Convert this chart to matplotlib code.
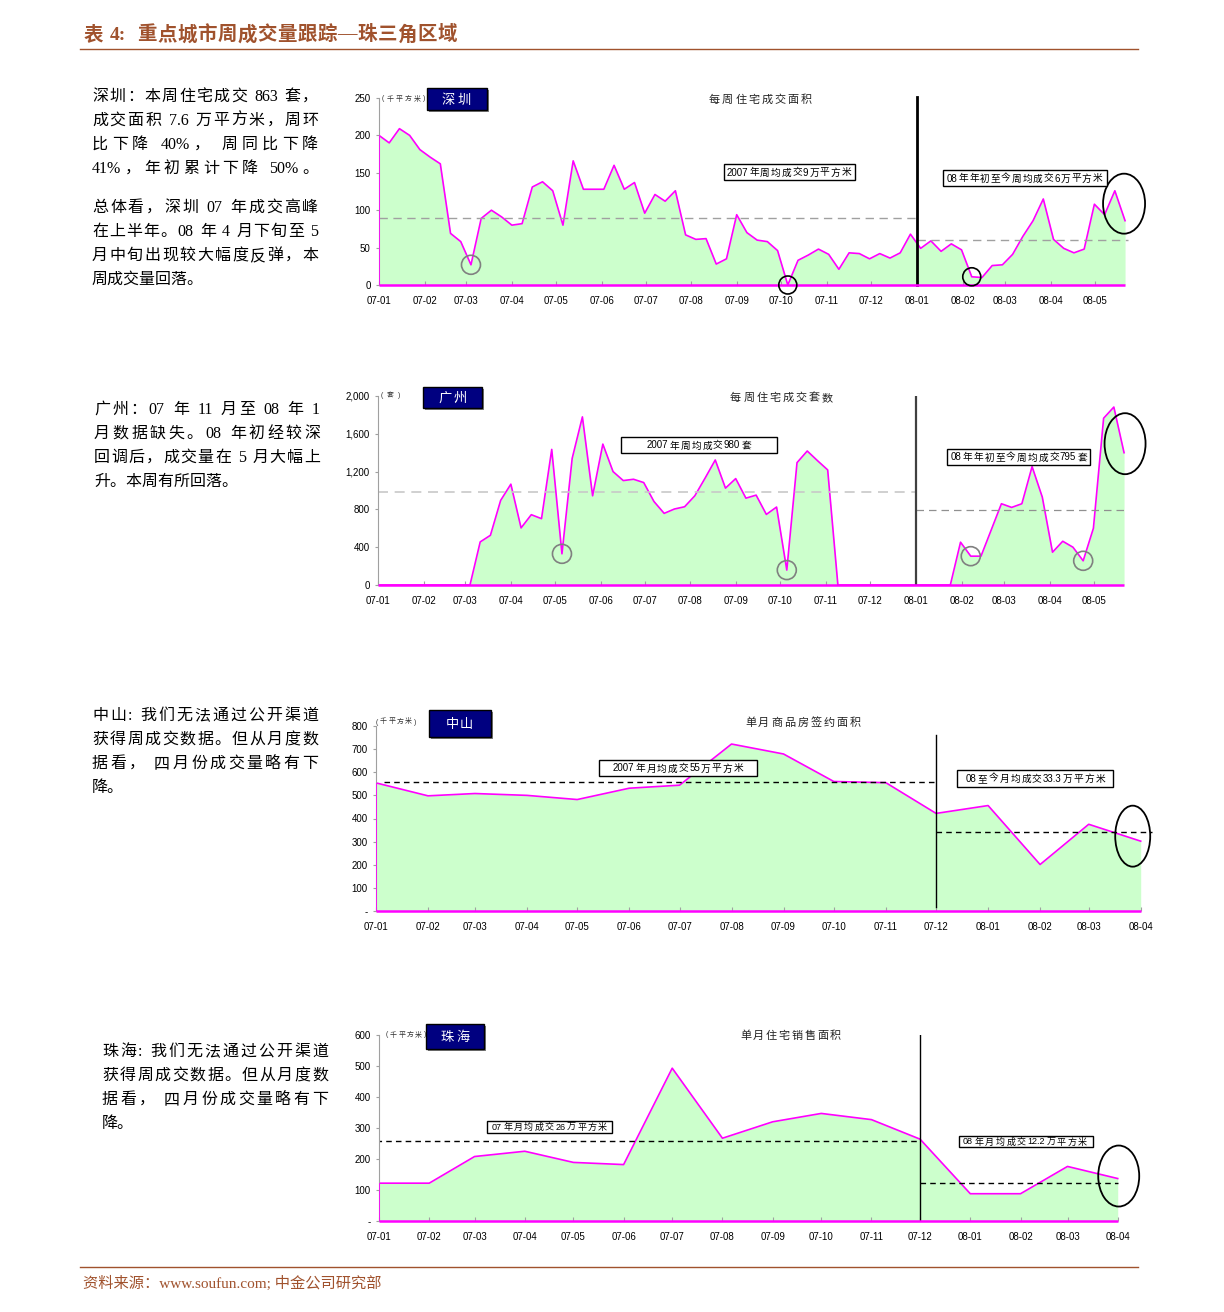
import re
import numpy as np
import matplotlib
matplotlib.use("Agg")
import matplotlib.pyplot as plt
from matplotlib.patches import Ellipse, Rectangle
from matplotlib.lines import Line2D
from matplotlib.transforms import IdentityTransform
from matplotlib.ticker import FuncFormatter

plt.rcParams['font.family'] = ['Liberation Sans', 'Noto Sans CJK SC', 'DejaVu Sans']

# ---------------- data ----------------
weekly_month_labels = ['07-01', '07-02', '07-03', '07-04', '07-05', '07-06', '07-07', '07-08',
                       '07-09', '07-10', '07-11', '07-12', '08-01', '08-02', '08-03', '08-04', '08-05']
weekly_month_days = [0, 31, 59, 90, 120, 151, 181, 212, 243, 273, 304, 334, 365, 396, 425, 456, 486]

monthly_labels = ['07-01', '07-02', '07-03', '07-04', '07-05', '07-06', '07-07', '07-08',
                  '07-09', '07-10', '07-11', '07-12', '08-01', '08-02', '08-03', '08-04']
monthly_days = [0, 31, 59, 90, 120, 151, 181, 212, 243, 273, 304, 334, 365, 396, 425, 456]

# Shenzhen weekly residential transaction area (thousand sqm)
sz_area = [200, 190, 209, 200, 181, 171, 162, 69, 58, 27, 89, 100, 91, 80, 82, 131, 138, 126, 80, 166,
           128, 128, 128, 160, 128, 137, 96, 121, 112, 126, 67, 61, 62, 28, 35, 94, 70, 60, 58, 46, 0,
           33, 40, 48, 41, 21, 43, 42, 35, 42, 36, 43, 68, 49, 59, 45, 55, 47, 11, 10, 26, 27, 41,
           65, 86, 115, 61, 49, 43, 48, 108, 94, 126, 86]
sz_avg_2007 = 89
sz_avg_2008 = 60

# Guangzhou weekly residential transaction units
gz_units = [0, 0, 0, 0, 0, 0, 0, 0, 0, 0,
            456, 526, 895, 1067, 604, 744, 702, 1435, 330, 1340, 1779, 944, 1491, 1200, 1105, 1119,
            1084, 884, 758, 804, 828, 944, 1130, 1323, 1025, 1126, 919, 951, 747, 825, 158, 1295,
            1418, 1316, 1218,
            0, 0, 0, 0, 0, 0, 0, 0, 0, 0, 0, 0,
            453, 305, 305, 582, 860, 821, 860, 1253, 930, 347, 463, 400, 256, 600, 1765, 1883, 1400]
gz_avg_2007 = 980
gz_avg_2008 = 795

# Zhongshan monthly contracted area (thousand sqm)
zs_area = [554, 498, 508, 500, 482, 531, 544, 722, 679, 560, 555, 422, 456, 201, 375, 302]
zs_avg_2007 = 557
zs_avg_2008 = 340

# Zhuhai monthly residential sales area (thousand sqm)
zh_area = [122, 122, 208, 225, 189, 182, 493, 267, 320, 347, 327, 264, 88, 88, 176, 137]
zh_avg_2007 = 258
zh_avg_2008 = 122

# ---------------- layout helpers ----------------
W, H = 1224, 1312
DPI = 100
fig = plt.figure(figsize=(W / DPI, H / DPI), dpi=DPI)
fig.patch.set_facecolor('white')
RENDERER = fig.canvas.get_renderer()

FILL = '#CCFFCC'
LINE = '#FF00FF'
NAVY = '#000080'
BROWN = '#A0522D'
CJK = ['Liberation Sans', 'Noto Sans CJK SC']
SERIF_CJK = ['Liberation Serif', 'Noto Sans CJK SC']


def add_ax(l, t, r, b):
    return fig.add_axes([l / W, 1 - b / H, (r - l) / W, (b - t) / H])


def ftext(x, y, s, **kw):
    kw.setdefault('va', 'center')
    return fig.text(x / W, 1 - y / H, s, **kw)


_wcache = {}


def text_width(s, fs, family, weight='normal'):
    key = (s, fs, tuple(family), weight)
    if key in _wcache:
        return _wcache[key]
    t = fig.text(0, 0, s + '|', fontsize=fs, family=family, fontweight=weight)
    w = t.get_window_extent(RENDERER).width
    t.remove()
    t2 = fig.text(0, 0, '|', fontsize=fs, family=family, fontweight=weight)
    wb = t2.get_window_extent(RENDERER).width
    t2.remove()
    _wcache[key] = w - wb
    return w - wb


def spread_text(xl, xr, y, s, fs, family, color='black', weight='normal'):
    """Draw s filling xl..xr; extra space goes between tokens (Latin runs kept together)."""
    tokens = re.findall(r'[A-Za-z0-9.%:]+|.', s)
    n = len(tokens)
    starts = []
    acc = ''
    for tk in tokens:
        starts.append(text_width(acc, fs, family, weight))
        acc += tk
    total = text_width(s, fs, family, weight)
    gap = (xr - xl - total) / (n - 1) if n > 1 else 0
    for i, tk in enumerate(tokens):
        if tk == ' ':
            continue
        ftext(xl + starts[i] + i * gap, y, tk, fontsize=fs, family=family, color=color,
              ha='left', fontweight=weight)


def frect(l, t, r, b, **kw):
    rect = Rectangle((l / W, 1 - b / H), (r - l) / W, (b - t) / H, transform=fig.transFigure, **kw)
    fig.add_artist(rect)


def name_box(l, t, r, b, tl, tr, s):
    frect(l + 2, t + 2, r + 2, b + 2, fc='#808080', ec='none')
    frect(l, t, r, b, fc=NAVY, ec='black', lw=1)
    spread_text(tl, tr, (t + b) / 2 + 1.5, s, 9.5, CJK, color='white')


def label_box(l, t, r, b, tl, tr, s, fs=7):
    frect(l, t, r, b, fc='white', ec='black', lw=1)
    spread_text(tl, tr, (t + b) / 2 + 0.5, s, fs, CJK)


def mark_ellipse(ax, x, y, w, h, color, dx=0, dy=0, lw=1.2):
    px, py = ax.transData.transform((x, y))
    e = Ellipse((px + dx, py + dy), w, h, transform=IdentityTransform(), fill=False,
                ec=color, lw=lw)
    fig.add_artist(e)


def draw_area(ax, x, y):
    ax.fill_between(x, 0, y, color=FILL, lw=0)
    ax.plot(x, y, color=LINE, lw=1.2)
    ax.hlines(0, x[0], x[-1], color=LINE, lw=1.8, clip_on=False, zorder=5)
    ax.vlines(x[0], 0, y[0], color=LINE, lw=1.2, zorder=5)


def style_axes(ax, xticks, xlabels, yticks, yfmt):
    ax.patch.set_visible(False)
    for s in ['top', 'right', 'bottom']:
        ax.spines[s].set_visible(False)
    ax.spines['left'].set_color('#A0A0A0')
    ax.spines['left'].set_linewidth(0.8)
    ax.set_xticks(xticks)
    ax.set_xticklabels(xlabels)
    ax.set_yticks(yticks)
    ax.yaxis.set_major_formatter(FuncFormatter(yfmt))
    ax.tick_params(axis='x', direction='in', length=3, color='#A0A0A0', pad=8, labelsize=7)
    ax.tick_params(axis='y', direction='out', length=2.5, color='#A0A0A0', pad=3.5, labelsize=7)


# ---------------- header / footer ----------------
spread_text(84, 457, 35, '表 4:  重点城市周成交量跟踪—珠三角区域', 14, SERIF_CJK,
            color=BROWN, weight='bold')
fig.add_artist(Line2D([80 / W, 1138 / W], [1 - 49 / H] * 2, color=BROWN, lw=1))
fig.add_artist(Line2D([80 / W, 1138 / W], [1 - 1267 / H] * 2, color=BROWN, lw=1))
ftext(83, 1283, '资料来源：www.soufun.com; 中金公司研究部', color=BROWN, fontsize=11, family=SERIF_CJK)

# ---------------- paragraphs ----------------
# (left x, right x, line y positions, lines, number of justified lines)
paras = [
    (92, 318, [97, 121, 145, 169], ['深圳：本周住宅成交 863 套，', '成交面积 7.6 万平方米，周环',
                                   '比下降 40%， 周同比下降', '41%，年初累计下降 50%。'], 4),
    (92, 318, [208, 232, 256, 280], ['总体看，深圳 07 年成交高峰', '在上半年。08 年 4 月下旬至 5',
                                    '月中旬出现较大幅度反弹，本', '周成交量回落。'], 3),
    (94, 320, [410, 434, 458, 482], ['广州：07 年 11 月至 08 年 1', '月数据缺失。08 年初经较深',
                                    '回调后，成交量在 5 月大幅上', '升。本周有所回落。'], 3),
    (92, 318, [716, 740, 764, 788], ['中山: 我们无法通过公开渠道', '获得周成交数据。但从月度数',
                                    '据看， 四月份成交量略有下', '降。'], 3),
    (102, 328, [1052, 1076, 1100, 1124], ['珠海: 我们无法通过公开渠道', '获得周成交数据。但从月度数',
                                         '据看， 四月份成交量略有下', '降。'], 3),
]
PFS = 11.5
for x0, x1r, ys, lines, njust in paras:
    for k, (yy, s) in enumerate(zip(ys, lines)):
        if k < njust:
            spread_text(x0, x1r, yy, s, PFS, SERIF_CJK)
        else:
            ftext(x0, yy, s, fontsize=PFS, family=SERIF_CJK, color='black')

# ---------------- weekly charts ----------------
WEEK_PX = 10.22
DAY_PX = 1.474
week_ticks = [d * DAY_PX / WEEK_PX for d in weekly_month_days]
sep_week = week_ticks[weekly_month_labels.index('08-01')]

# Shenzhen
ax1 = add_ax(379, 98, 1140, 285)
x1 = np.arange(len(sz_area))
ax1.set_xlim(0, (1140 - 379) / WEEK_PX)
ax1.set_ylim(0, 250)
draw_area(ax1, x1, sz_area)
ax1.hlines(sz_avg_2007, 0, sep_week, colors='#A0A0A0', linestyles=(0, (6, 4)), lw=1)
ax1.hlines(sz_avg_2008, sep_week, x1[-1] + 0.3, colors='#A0A0A0', linestyles=(0, (6, 4)), lw=1)
ax1.axvline(sep_week, color='black', lw=2, ymax=1.005, clip_on=False)
style_axes(ax1, week_ticks, weekly_month_labels, [0, 50, 100, 150, 200, 250],
           lambda v, p: f'{int(v)}')
mark_ellipse(ax1, 9, sz_area[9], 19, 19, '#808080')
mark_ellipse(ax1, 40, sz_area[40], 18, 18, 'black')
mark_ellipse(ax1, 58, sz_area[58], 18, 18, 'black')
mark_ellipse(ax1, x1[-1], sz_area[-1], 42, 60, 'black', dx=-1, dy=17, lw=1.3)
name_box(427, 88, 487, 110, 442, 471, '深 圳')
spread_text(382, 425, 99, '(千平方米)', 5, CJK, color='#333333')
spread_text(709, 812, 100, '每周住宅成交面积', 8, CJK, color='#222222')
label_box(724, 164, 855, 180, 727, 851, '2007年周均成交9万平方米')
label_box(943, 170, 1107, 186, 947, 1102, '08年年初至今周均成交6万平方米')

# Guangzhou
ax2 = add_ax(378, 396, 1140, 585)
x2 = np.arange(len(gz_units))
ax2.set_xlim(0, (1140 - 378) / WEEK_PX)
ax2.set_ylim(0, 2000)
draw_area(ax2, x2, gz_units)
ax2.hlines(gz_avg_2007, 0, sep_week, colors='#C8C8C8', linestyles=(0, (6, 4)), lw=1.2)
ax2.hlines(gz_avg_2008, sep_week, x2[-1] + 0.3, colors='#909090', linestyles=(0, (6, 4)), lw=0.9)
ax2.axvline(sep_week, color='#404040', lw=1.6)
style_axes(ax2, week_ticks, weekly_month_labels, [0, 400, 800, 1200, 1600, 2000],
           lambda v, p: f'{int(v):,}')
mark_ellipse(ax2, 18, gz_units[18], 19, 19, '#808080')
mark_ellipse(ax2, 40, gz_units[40], 19, 19, '#808080')
mark_ellipse(ax2, 58, gz_units[58], 19, 19, '#808080')
mark_ellipse(ax2, 69, gz_units[69], 19, 19, '#808080')
mark_ellipse(ax2, x2[-1], gz_units[-1], 41, 61, 'black', dx=1, dy=9, lw=1.3)
name_box(423, 387, 482, 408, 438, 467, '广 州')
spread_text(381, 400, 396, '(套)', 5, CJK, color='#333333')
spread_text(730, 833, 398, '每周住宅成交套数', 8, CJK, color='#222222')
label_box(621, 437, 777, 453, 647, 751, '2007年周均成交980套')
label_box(947, 449, 1090, 465, 951, 1087, '08年年初至今周均成交795套')

# ---------------- monthly charts ----------------
sep_month = monthly_days[monthly_labels.index('07-12')]

# Zhongshan
ZS_DAY_PX = 1.677
ax3 = add_ax(376, 726, 1160, 911)
ax3.set_xlim(0, (1160 - 376) / ZS_DAY_PX)
ax3.set_ylim(0, 800)
draw_area(ax3, monthly_days, zs_area)
ax3.hlines(zs_avg_2007, monthly_days[0] + 5, sep_month, colors='black', linestyles=(0, (4, 3)), lw=1)
ax3.hlines(zs_avg_2008, sep_month, monthly_days[-1] + 7, colors='black', linestyles=(0, (4, 3)), lw=1)
ax3.axvline(sep_month, color='black', lw=1, ymin=0.02, ymax=0.95)
style_axes(ax3, monthly_days, monthly_labels, list(range(0, 900, 100)),
           lambda v, p: '-' if v == 0 else f'{int(v)}')
mark_ellipse(ax3, monthly_days[-1], zs_area[-1], 35, 61, 'black', dx=-8, dy=5, lw=1.3)
name_box(429, 710, 491, 737, 446, 473, '中 山')
spread_text(376, 416, 722, '(千平方米)', 5, CJK, color='#333333')
spread_text(745, 861, 723, '单月商品房签约面积', 8, CJK, color='#222222')
label_box(599, 760, 757, 776, 613, 743, '2007年月均成交55万平方米')
label_box(957, 770, 1113, 787, 966, 1105, '08至今月均成交33.3万平方米')

# Zhuhai
ZH_DAY_PX = 1.62
ax4 = add_ax(379, 1035, 1140, 1221)
ax4.set_xlim(0, (1140 - 379) / ZH_DAY_PX)
ax4.set_ylim(0, 600)
draw_area(ax4, monthly_days, zh_area)
ax4.hlines(zh_avg_2007, monthly_days[0] - 2, sep_month, colors='black', linestyles=(0, (4, 3)), lw=1)
ax4.hlines(zh_avg_2008, sep_month, monthly_days[-1], colors='black', linestyles=(0, (4, 3)), lw=1)
ax4.axvline(sep_month, color='black', lw=1)
style_axes(ax4, monthly_days, monthly_labels, list(range(0, 700, 100)),
           lambda v, p: '-' if v == 0 else f'{int(v)}')
mark_ellipse(ax4, monthly_days[-1], zh_area[-1], 41, 61, 'black', dx=1, dy=2.5, lw=1.3)
name_box(426, 1024, 484, 1049, 440, 470, '珠 海')
spread_text(386, 426, 1035, '(千平方米)', 5, CJK, color='#333333')
spread_text(740, 841, 1036, '单月住宅销售面积', 8, CJK, color='#222222')
label_box(487, 1121, 612, 1133, 492, 607, '07年月均成交26万平方米', fs=6.5)
label_box(959, 1136, 1093, 1147, 963, 1087, '08年月均成交12.2万平方米', fs=6.5)

fig.savefig('out.png', dpi=DPI)
